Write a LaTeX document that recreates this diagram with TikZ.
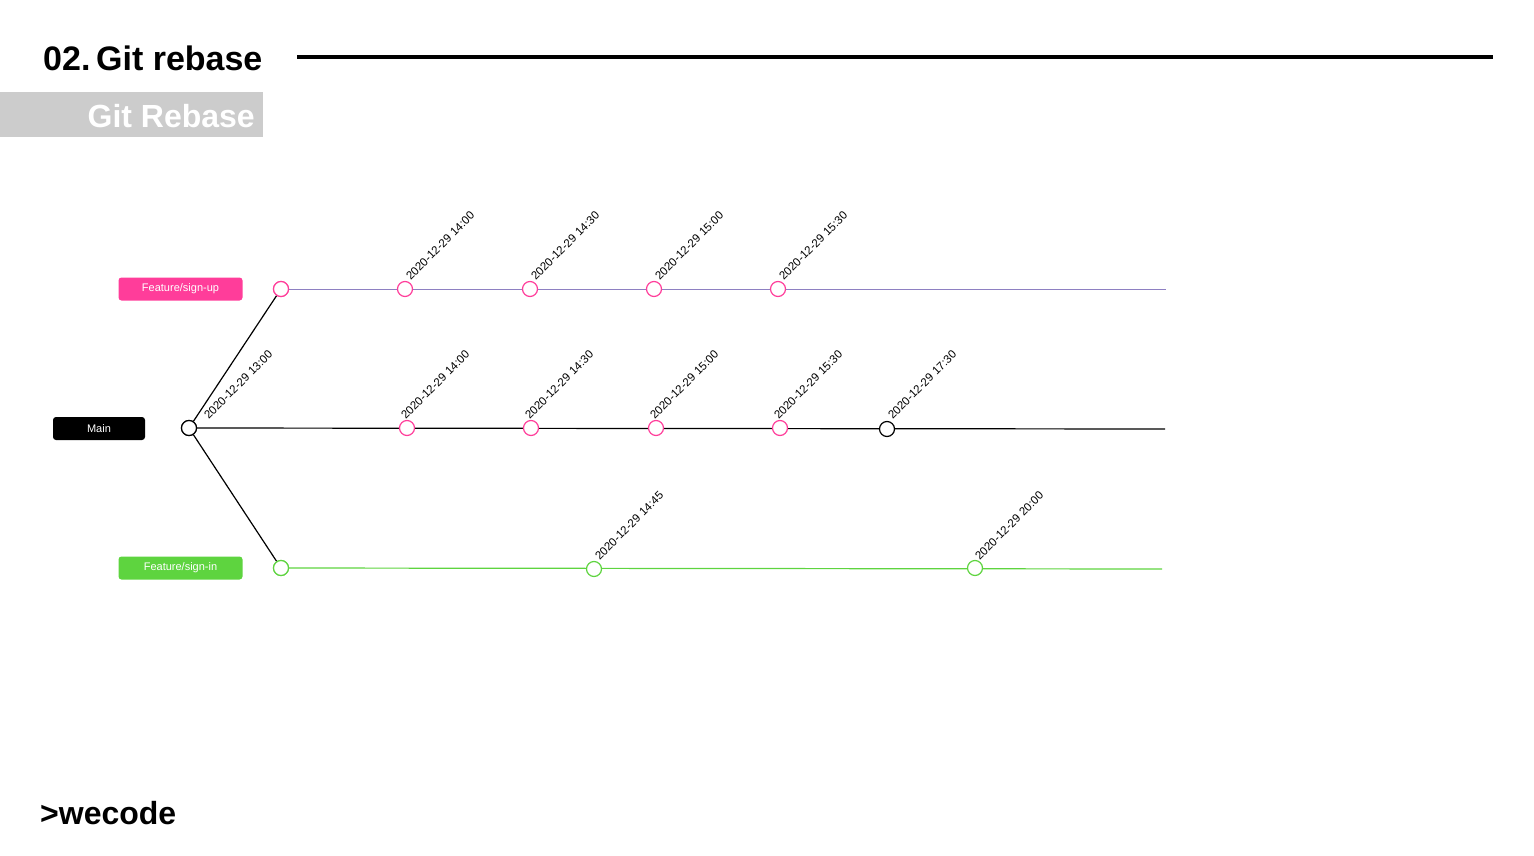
\documentclass[tikz,border=0pt]{standalone}
\usepackage{fontspec}
\setmainfont{Liberation Sans}
\begin{document}
\begin{tikzpicture}[x=1pt,y=-1pt,
  cm/.style={circle,draw=#1,fill=white,line width=1.2pt,minimum size=15pt,inner sep=0pt},
  dt/.style={rotate=45,anchor=south west,font=\fontsize{11.5}{12}\selectfont,inner sep=0pt},
  tag/.style={rounded corners=3pt,fill=#1,text=white,font=\fontsize{11}{12}\selectfont,minimum height=23pt,inner sep=0pt}]
\definecolor{pk}{HTML}{FF3D9A}
\definecolor{pu}{HTML}{8E80C2}
\definecolor{gr}{HTML}{5ED43F}
\useasboundingbox (0,0) rectangle (1534,856);
\node[anchor=west,font=\bfseries\fontsize{34}{34}\selectfont,inner sep=0pt] (title) at (43,58) {02.\,Git rebase};
\draw[line width=4.5pt] (297,57) -- (1493,57);
\fill[black!20] (0,92) rectangle (263,137);
\node[anchor=east,text=white,font=\bfseries\fontsize{32}{32}\selectfont,inner sep=0pt] (sub) at (255,116) {Git Rebase};
\node[tag=pk,minimum width=124pt] (fu) at (180.5,289) {Feature/sign-up};
\node[tag=black,minimum width=92pt] (mn) at (99,428.5) {Main};
\node[tag=gr,minimum width=124pt] (fi) at (180.5,568) {Feature/sign-in};
\node[cm=black] (m0) at (189,428) {};
\coordinate (mend) at (1165,429);
\coordinate (uend) at (1166,289);
\coordinate (iend) at (1162,569);
\node[cm=pk] (u0) at (281,289) {};
\node[cm=gr] (i0) at (281,568) {};
\draw[pu,line width=0.9pt] (u0) -- (uend);
\draw[gr,line width=1.2pt] (i0) -- (iend);
\draw[line width=1.2pt] (m0) -- (mend);
\draw[line width=1.2pt] (m0) -- (u0);
\draw[line width=1.2pt] (m0) -- (i0);
\node[cm=pk] (u0) at (281,289) {};
\node[cm=gr] (i0) at (281,568) {};
\node[cm=black] (m0) at (189,428) {};
\foreach \x/\t [count=\i] in {405/14:00,530/14:30,654/15:00,778/15:30}{
  \node[cm=pk] (u\i) at (\x,289) {};
  \node[dt] (ut\i) at (\x+6,281) {2020-12-29 \t};
}
\foreach \x/\t [count=\i] in {407/14:00,531/14:30,656/15:00,780/15:30}{
  \node[cm=pk] (m\i) at (\x,428) {};
  \node[dt] (mt\i) at (\x-1,420) {2020-12-29 \t};
}
\node[cm=black] (m5) at (887,429) {};
\node[dt] (mt5) at (893,420) {2020-12-29 17:30};
\node[dt] (mt0) at (209,420) {2020-12-29 13:00};
\node[cm=gr] (i1) at (594,569) {};
\node[dt] (it1) at (600,561) {2020-12-29 14:45};
\node[cm=gr] (i2) at (975,568) {};
\node[dt] (it2) at (980,561) {2020-12-29 20:00};
\node[anchor=west,font=\bfseries\fontsize{32}{32}\selectfont,inner sep=0pt] (logo) at (40,813) {>wecode};
\end{tikzpicture}
\end{document}
